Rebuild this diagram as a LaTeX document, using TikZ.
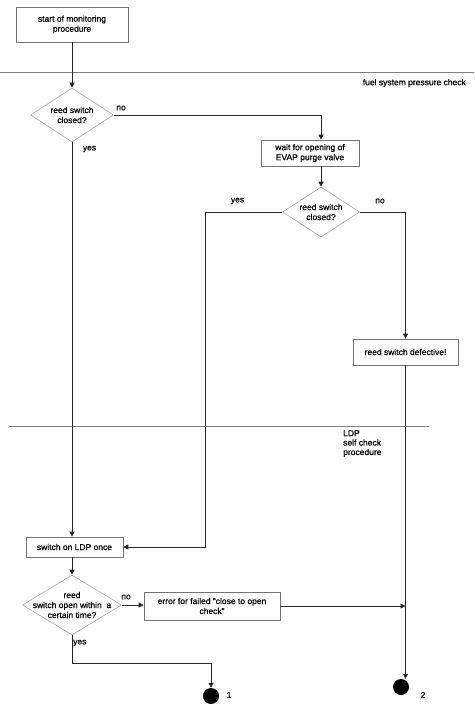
\documentclass[tikz,border=0pt]{standalone}
\usepackage{fontspec}
\setmainfont{Liberation Sans}[RawFeature={embolden=0.7}]
\usetikzlibrary{shapes.geometric,arrows.meta}
\begin{document}
\begin{tikzpicture}[x=1pt,y=-1pt,
  every node/.style={font=\fontsize{8.5}{10}\selectfont, text=black},
  box/.style={draw=black!55, line width=0.7pt, inner sep=0pt, align=center},
  dia/.style={diamond, draw=black!35, line width=0.6pt, inner sep=0pt},
  conn/.style={draw=black!85, line width=0.8pt},
  arr/.style={conn, -{Triangle[length=5pt,width=5pt]}},
  divider/.style={draw=black!50, line width=0.8pt},
  endpt/.style={circle, fill=black, inner sep=0pt, minimum size=16pt},
  lbl/.style={inner sep=0pt, align=center}
]
\useasboundingbox (0,0) rectangle (474,708);
% dividers
\draw[divider] (0,72) -- (474,72);
\draw[divider] (9,426) -- (429,426);
% boxes
\node[box, minimum width=112pt, minimum height=35pt] (start) at (72,24.5) {start of monitoring\\procedure};
\node[box, minimum width=98pt, minimum height=26pt] (wait) at (310,153) {wait for opening of\\EVAP purge valve};
\node[box, minimum width=105pt, minimum height=26pt] (rsd) at (405.5,352) {reed switch defective!};
\node[box, minimum width=97pt, minimum height=20pt] (ldp) at (74.5,547) {switch on LDP once};
\node[box, minimum width=136pt, minimum height=28pt] (err) at (212,606) {error for failed "close to open\\check"};
% diamonds
\node[dia, minimum width=83pt, minimum height=54pt] (d1) at (72,115) {};
\node[lbl] at (d1) {reed switch\\closed?};
\node[dia, minimum width=77pt, minimum height=50pt] (d2) at (321,212) {};
\node[lbl] at (d2) {reed switch\\closed?};
\node[dia, minimum width=99pt, minimum height=60pt] (d3) at (72,605) {};
\node[lbl] at (d3) {reed\\switch open within~~a\\certain time?};
% end points
\node[endpt] (e1) at (211,696) {};
\node[endpt] (e2) at (401,687) {};
% section texts
\node[lbl, anchor=east] at (466,83) {fuel system pressure check};
\node[lbl, anchor=north west, align=left, font=\fontsize{8.5}{9.5}\selectfont] at (343,430) {LDP\\self check\\procedure};
% labels
\node[lbl] at (121,108) {no};
\node[lbl] at (89.5,149) {yes};
\node[lbl] at (237.5,201) {yes};
\node[lbl] at (380,201) {no};
\node[lbl] at (126,597) {no};
\node[lbl, anchor=west] at (73,643) {yes};
\node[lbl] at (229,695) {1};
\node[lbl] at (423,695) {2};
% connectors
\coordinate (ybend) at (205,212);
\draw[arr] (d1.north |- start.south) -- (d1.north);
\draw[arr] (d1.east) -| (d2.north |- wait.north);
\draw[arr] (d2.north |- wait.south) -- (d2.north);
\draw[arr] (d2.west) -| (ybend |- ldp.east) -- (ldp.east);
\draw[arr] (d2.east) -| (rsd.north);
\draw[arr] (rsd.south) -- (rsd.south |- e2.north);
\draw[arr] (d1.south) -- (d1.south |- ldp.north);
\draw[arr] (d3.north |- ldp.south) -- (d3.north);
\draw[arr] (d3.east) -- (d3.east -| err.west);
\draw[arr] (err.east) -- (err.east -| rsd.south);
\draw[arr] (d3.south) -- ++(0,28) -| (e1.north);
\end{tikzpicture}
\end{document}
